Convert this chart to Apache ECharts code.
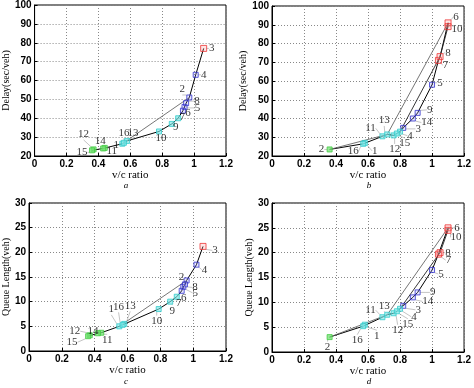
<!DOCTYPE html>
<html><head><meta charset="utf-8">
<script src="https://cdn.jsdelivr.net/npm/echarts@6/dist/echarts.min.js"></script>
<style>html,body{margin:0;padding:0;background:#fff}#c{width:474px;height:388px}</style>
</head><body><div id="c"></div>
<script>
// ---- data ----
const ids = [1,2,3,4,5,6,7,8,9,10,11,12,13,14,15,16];
const xTicks = [0,0.2,0.4,0.6,0.8,1,1.2];
const delayTicks = [20,30,40,50,60,70,80,90,100];
const queueTicks = [0,5,10,15,20,25,30];

const xA = [0.55,0.97,1.06,1.01,0.94,0.93,0.90,0.95,0.86,0.78,0.44,0.37,0.58,0.43,0.36,0.56];
const yA = [26.5,51,77,63,46,44,40,48,37,33,24.3,23.5,28,24,23,27];

const xB = [0.58,0.36,0.82,0.80,1.00,1.10,1.04,1.05,0.91,1.10,0.69,0.76,0.72,0.88,0.78,0.57];
const yB = [27,23.5,35,33,58,91,71,73,43,89,30.5,31,31.5,40,32,26.5];

const xC = [0.55,0.96,1.06,1.02,0.94,0.93,0.90,0.95,0.86,0.79,0.44,0.37,0.58,0.42,0.36,0.57];
const yC = [5,14.3,21.2,17.5,13,12.2,11,13.5,10,8.5,3.7,3.2,5.5,3.6,3,5.3];

const xD = [0.58,0.36,0.82,0.80,1.00,1.10,1.04,1.05,0.91,1.10,0.69,0.76,0.72,0.88,0.78,0.57];
const yD = [5.5,3,9.3,8.7,16.5,25,19.7,20,12,24.5,7,7.8,7.5,11,8.2,5.2];

// ---- label placement (px offsets) ----
const offA = [[-6,1],[-7,-8],[8,0],[8,0],[13,1],[5,2],[4,-1],[11,-2],[4,3],[2,7],[7,3],[-10,-15],[6,-8],[-3,-7],[-10,2],[0,-10]];
const offB = [[10,8],[-8,0],[15,1],[10,4],[8,-2],[8,-6],[7,5],[8,-4],[12,-3],[9,2],[-12,-8],[1,14],[-3,-14],[14,4],[8,10],[-10,7]];
const offC = [[-8,-17],[-5,-3],[12,4],[8,5],[12,6],[2,7],[2,6],[10,3],[2,9],[-2,12],[6,7],[-15,-4],[6,-18],[-5,-2],[-16,6],[-4,-18]];
const offD = [[12,11],[-2,10],[15,4],[14,8],[9,4],[9,0],[10,6],[8,0],[15,0],[8,7],[-12,-7],[4,17],[-3,-9],[15,4],[11,13],[-6,14]];

const panels = [
  {x:xA,y:yA,off:offA,grid:{left:29,right:248,top:5,bottom:232},min:20,max:100,interval:10,name:'Delay(sec/veh)',thr:[25,42,70],gray:[[1,2]],extra:[],cap:'a',capPos:[126,187]},
  {x:xB,y:yB,off:offB,grid:{left:272,right:8,top:6,bottom:232},min:20,max:100,interval:10,name:'Delay(sec/veh)',thr:[25,34,65],gray:[[2,13],[13,6]],extra:[[4,8],[8,10]],cap:'b',capPos:[369,187]},
  {x:xC,y:yC,off:offC,grid:{left:29,right:248,top:203,bottom:37},min:0,max:30,interval:5,name:'Queue Length(veh)',thr:[4,11.5,20],gray:[[1,2]],extra:[],cap:'c',capPos:[126,383]},
  {x:xD,y:yD,off:offD,grid:{left:272,right:7,top:203,bottom:36},min:0,max:30,interval:5,name:'Queue Length(veh)',thr:[4,9,18],gray:[[2,13],[13,6]],extra:[[4,8],[8,10]],cap:'d',capPos:[369,383]}
];

const palette = [
  {fill:'rgba(110,225,110,0.9)',border:'#44cc44'},
  {fill:'rgba(120,230,230,0.8)',border:'#33cccc'},
  {fill:'rgba(140,140,255,0.25)',border:'#3333cc'},
  {fill:'rgba(255,150,150,0.3)',border:'#ee3333'}
];
function cls(v,thr){ if(v<thr[0])return 0; if(v<thr[1])return 1; if(v<thr[2])return 2; return 3; }

const serif = 'Liberation Serif';
const grids=[],xAxes=[],yAxes=[],series=[],titles=[];
panels.forEach((p,i)=>{
  grids.push(Object.assign({show:true,borderColor:'#000',borderWidth:1,containLabel:false},p.grid));
  xAxes.push({gridIndex:i,type:'value',min:0,max:1.2,interval:0.2,
    name:'v/c ratio',nameLocation:'middle',nameGap:13,nameTextStyle:{fontFamily:serif,fontSize:11,color:'#000'},
    axisLine:{lineStyle:{color:'#000'}},axisTick:{inside:true,length:3,lineStyle:{color:'#000'}},
    axisLabel:{margin:3,fontFamily:'Liberation Sans',fontWeight:'bold',fontSize:10,color:'#000',
      formatter:v=>{const t=xTicks.find(k=>Math.abs(k-v)<1e-6);return t===undefined?'':String(t);}},
    splitLine:{show:true,lineStyle:{type:[1,2],color:'#888',width:1}}});
  const ticks = p.min===20?delayTicks:queueTicks;
  yAxes.push({gridIndex:i,type:'value',min:p.min,max:p.max,interval:p.interval,
    name:p.name,nameLocation:'middle',nameGap:16,nameRotate:90,nameTextStyle:{fontFamily:serif,fontSize:10,color:'#000'},
    axisLine:{lineStyle:{color:'#000'}},axisTick:{inside:true,length:3,lineStyle:{color:'#000'}},
    axisLabel:{margin:3,fontFamily:'Liberation Sans',fontWeight:'bold',fontSize:10,color:'#000',
      formatter:v=>{const t=ticks.find(k=>Math.abs(k-v)<1e-6);return t===undefined?'':String(t);}},
    splitLine:{show:true,lineStyle:{type:[1,2],color:'#888',width:1}}});
  // black curve: points sorted by v/c
  const order = ids.map((_,k)=>k).sort((a,b)=>p.x[a]-p.x[b]);
  series.push({type:'line',xAxisIndex:i,yAxisIndex:i,symbol:'none',silent:true,z:2,
    lineStyle:{color:'#000',width:1},data:order.map(k=>[p.x[k],p.y[k]])});
  p.extra.forEach(seg=>{
    series.push({type:'line',xAxisIndex:i,yAxisIndex:i,symbol:'none',silent:true,z:2,
      lineStyle:{color:'#222',width:0.9},data:seg.map(id=>[p.x[id-1],p.y[id-1]])});
  });
  p.gray.forEach(seg=>{
    series.push({type:'line',xAxisIndex:i,yAxisIndex:i,symbol:'none',silent:true,z:2,
      lineStyle:{color:'#666',width:0.9},data:seg.map(id=>[p.x[id-1],p.y[id-1]])});
  });
  const off = p.off;
  series.push({type:'scatter',xAxisIndex:i,yAxisIndex:i,symbol:'rect',symbolSize:5,z:3,
    data:ids.map((id,k)=>{const c=palette[cls(p.y[k],p.thr)];
      return {value:[p.x[k],p.y[k]],name:String(id),
        symbolSize:cls(p.y[k],p.thr)===3?6:5,
        itemStyle:{color:c.fill,borderColor:c.border,borderWidth:1}};}),
    label:{show:true,position:'inside',formatter:d=>d.name,fontFamily:serif,fontSize:11,color:'#000'},
    labelLine:{show:true,lineStyle:{color:'#aaa',width:0.7}},
    labelLayout:function(prm){const o=off[prm.dataIndex];return {dx:o[0],dy:o[1]};}
  });
  titles.push({text:p.cap,left:p.capPos[0],top:p.capPos[1]-6,textAlign:'center',padding:0,
    textStyle:{fontFamily:serif,fontStyle:'italic',fontWeight:'normal',fontSize:9,color:'#000'}});
});

const chart = echarts.init(document.getElementById('c'),null,{renderer:'canvas'});
chart.setOption({animation:false,backgroundColor:'#fff',title:titles,grid:grids,xAxis:xAxes,yAxis:yAxes,series:series});
</script></body></html>
